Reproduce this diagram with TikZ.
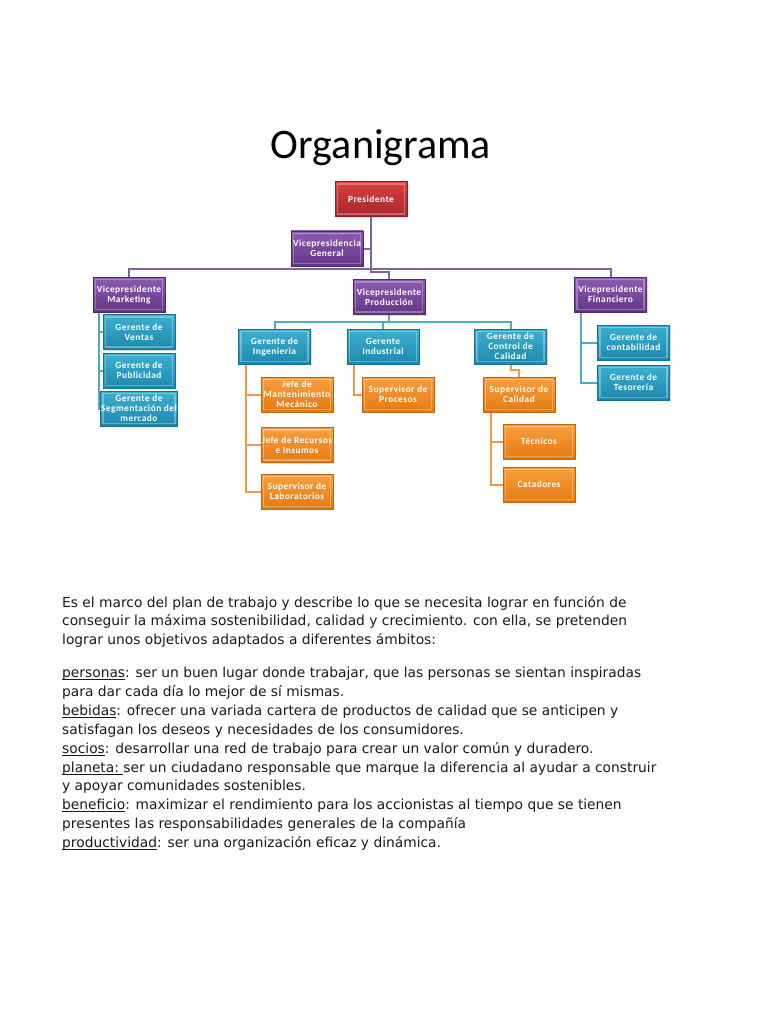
\documentclass[tikz,border=0pt]{standalone}
\usepackage{fontspec}
\setmainfont{DejaVu Sans}
\newfontfamily\titlefont{Carlito}
\newfontfamily\boxfont[LetterSpace=5]{Carlito}
\usetikzlibrary{shadows,backgrounds}
\newcommand\myul[1]{\leavevmode\setbox0\hbox{#1}\rlap{\rule[-2.3pt]{\wd0}{0.7pt}}\box0}
\definecolor{redT}{HTML}{D9403F}
\definecolor{redB}{HTML}{A8262B}
\definecolor{redD}{HTML}{8E1F22}
\definecolor{purT}{HTML}{8C5CB0}
\definecolor{purB}{HTML}{623486}
\definecolor{purD}{HTML}{54296F}
\definecolor{cyaT}{HTML}{3DB0D2}
\definecolor{cyaB}{HTML}{1D88AD}
\definecolor{cyaD}{HTML}{17728F}
\definecolor{oraT}{HTML}{F9A040}
\definecolor{oraB}{HTML}{E47A12}
\definecolor{oraD}{HTML}{C3640A}
\definecolor{lnPur}{HTML}{8064A2}
\definecolor{lnCya}{HTML}{4BACC6}
\definecolor{lnOra}{HTML}{F79646}
\definecolor{bodytext}{HTML}{1A1A1A}
\tikzset{
  box/.style={rectangle, minimum width=72pt, minimum height=35pt, inner sep=0.5pt,
    align=center, text=white, font=\boxfont\bfseries\fontsize{9.4}{10}\selectfont,
    drop shadow={opacity=0.25,shadow xshift=1pt,shadow yshift=-1.2pt},
    path picture={\draw[white,opacity=0.3,line width=1.6pt]
      ([shift={(2.5pt,-2.5pt)}]path picture bounding box.north west) rectangle
      ([shift={(-2.5pt,2.5pt)}]path picture bounding box.south east);}},
  redbox/.style={box, top color=redT, bottom color=redB, draw=redD},
  purbox/.style={box, top color=purT, bottom color=purB, draw=purD},
  cyabox/.style={box, top color=cyaT, bottom color=cyaB, draw=cyaD},
  orabox/.style={box, top color=oraT, bottom color=oraB, draw=oraD},
  purline/.style={draw=lnPur, line width=2pt},
  cyaline/.style={draw=lnCya, line width=2pt},
  oraline/.style={draw=lnOra, line width=2pt},
  bodyline/.style={anchor=base west, inner sep=0pt, text=bodytext,
    font=\fontsize{13.8}{15}\selectfont},
}
\begin{document}
\begin{tikzpicture}[x=1pt,y=-1pt]
\useasboundingbox (0,0) rectangle (768,1024);
% title
\node[anchor=base, inner sep=0pt, font=\titlefont\fontsize{42}{46}\selectfont, text=black] (title) at (381,159) {Organigrama};
% boxes
\node[redbox] (pres) at (371,199) {Presidente};
\node[purbox] (vpg) at (327,248.5) {Vicepresidencia\\General};
\node[purbox] (vpm) at (129,294.5) {Vicepresidente\\Marketing};
\node[purbox] (vpp) at (389,297) {Vicepresidente\\Producción};
\node[purbox] (vpf) at (610.5,294.5) {Vicepresidente\\Financiero};
\node[cyabox] (gv) at (139,332) {Gerente de\\Ventas};
\node[cyabox] (gp) at (139,370.5) {Gerente de\\Publicidad};
\node[cyabox] (gs) at (139,408.5) {Gerente de\\Segmentación del\\mercado};
\node[cyabox] (gi) at (274.5,346.5) {Gerente de\\Ingenieria};
\node[cyabox] (gind) at (383,346.5) {Gerente\\Industrial};
\node[cyabox] (gcc) at (510.5,346.5) {Gerente de\\Control de\\Calidad};
\node[cyabox] (gcont) at (633.5,342.5) {Gerente de\\contabilidad};
\node[cyabox] (gtes) at (633.5,382.5) {Gerente de\\Tesorería};
\node[orabox] (jm) at (297,394.5) {Jefe de\\Mantenimiento\\Mecánico};
\node[orabox] (jr) at (297,445) {Jefe de Recursos\\e Insumos};
\node[orabox] (sl) at (297,491.5) {Supervisor de\\Laboratorios};
\node[orabox] (sp) at (398,394.5) {Supervisor de\\Procesos};
\node[orabox] (sc) at (519,394.5) {Supervisor de\\Calidad};
\node[orabox] (tec) at (539,441.5) {Técnicos};
\node[orabox] (cat) at (539,484.5) {Catadores};
% helper coordinates
\coordinate (bar) at (0,269);
\coordinate (pstep) at (0,272);
\coordinate (cbar) at (0,322);
\coordinate (cq) at (0,370);
\coordinate (mk) at (99,0);
\coordinate (fin) at (581,0);
\coordinate (ing) at (246,0);
\coordinate (ind) at (354,0);
\coordinate (sup) at (491,0);
\begin{scope}[on background layer]
  % purple
  \draw[purline] (vpm.north) -- (vpm.north |- bar) -- (vpf.north |- bar) -- (vpf.north);
  \draw[purline] (pres.south) -- (pres.south |- pstep) -| (vpp.north);
  \draw[purline] (vpg.east) -- (vpg.east -| pres.south);
  % cyan
  \draw[cyaline] (vpm.south -| mk) |- (gs.west);
  \draw[cyaline] (gv.west -| mk) -- (gv.west);
  \draw[cyaline] (gp.west -| mk) -- (gp.west);
  \draw[cyaline] (vpp.south) -- (vpp.south |- cbar);
  \draw[cyaline] (gi.north) -- (gi.north |- cbar) -- (gcc.north |- cbar) -- (gcc.north);
  \draw[cyaline] (gind.north) -- (gind.north |- cbar);
  \draw[cyaline] (vpf.south -| fin) |- (gtes.west);
  \draw[cyaline] (gcont.west -| fin) -- (gcont.west);
  % orange
  \draw[oraline] (gi.south -| ing) |- (sl.west);
  \draw[oraline] (jm.west -| ing) -- (jm.west);
  \draw[oraline] (jr.west -| ing) -- (jr.west);
  \draw[oraline] (gind.south -| ind) |- (sp.west);
  \draw[oraline] (gcc.south) -- (gcc.south |- cq) -| (sc.north);
  \draw[oraline] (sc.south -| sup) |- (cat.west);
  \draw[oraline] (tec.west -| sup) -- (tec.west);
\end{scope}
% body text
\node[bodyline] (t1) at (62,607) {Es el marco del plan de trabajo y describe lo que se necesita lograr en función de};
\node[bodyline] (t2) at (62,625.7) {conseguir la máxima sostenibilidad, calidad y crecimiento. con ella, se pretenden};
\node[bodyline] (t3) at (62,644.4) {lograr unos objetivos adaptados a diferentes ámbitos:};
\node[bodyline] (t4) at (62,677.5) {\myul{personas}: ser un buen lugar donde trabajar, que las personas se sientan inspiradas};
\node[bodyline] (t5) at (62,696.4) {para dar cada día lo mejor de sí mismas.};
\node[bodyline] (t6) at (62,715.3) {\myul{bebidas}: ofrecer una variada cartera de productos de calidad que se anticipen y};
\node[bodyline] (t7) at (62,734.2) {satisfagan los deseos y necesidades de los consumidores.};
\node[bodyline] (t8) at (62,753.1) {\myul{socios}: desarrollar una red de trabajo para crear un valor común y duradero.};
\node[bodyline] (t9) at (62,772) {\myul{planeta:\ }ser un ciudadano responsable que marque la diferencia al ayudar a construir};
\node[bodyline] (t10) at (62,790.9) {y apoyar comunidades sostenibles.};
\node[bodyline] (t11) at (62,809.8) {\myul{beneficio}: maximizar el rendimiento para los accionistas al tiempo que se tienen};
\node[bodyline] (t12) at (62,828.7) {presentes las responsabilidades generales de la compañía};
\node[bodyline] (t13) at (62,847.6) {\myul{productividad}: ser una organización eficaz y dinámica.};
\end{tikzpicture}
\end{document}
